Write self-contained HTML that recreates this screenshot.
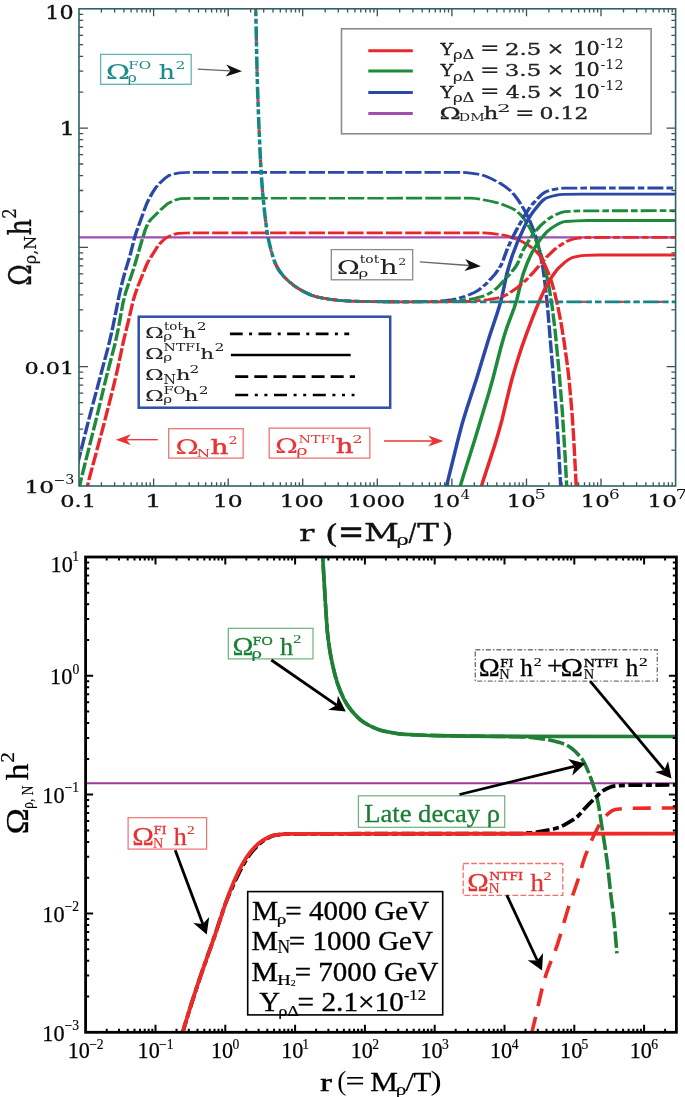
<!DOCTYPE html>
<html><head><meta charset="utf-8"><title>plot</title>
<style>
html,body{margin:0;padding:0;background:#fff;}
svg{display:block;}
.dv{font-family:"DejaVu Serif","Liberation Serif",serif;}
.tm{font-family:"Liberation Serif","DejaVu Serif",serif;}
</style></head>
<body>
<svg width="685" height="1097" viewBox="0 0 685 1097">
<rect width="685" height="1097" fill="#fff"/>
<clipPath id="ctop"><rect x="79.0" y="8.8" width="596.6" height="477.2"/></clipPath>
<g clip-path="url(#ctop)"><line x1="79.0" y1="237.4" x2="675.6" y2="237.4" stroke="#a24db0" stroke-width="2.2"/><g transform="scale(1.27 1)"><path d="M55.1,494 70.1,418.7 85.4,346 88.6,328.6 93.7,296.2 95.4,286.6 98.2,272.9 102.3,256 106,237.5 107.4,231.9 114.1,208.3 115.6,203.4 117.2,199.2 120.2,192.4 122.9,187.2 126.5,182.3 130,178.1 133.1,175.5 135.7,174.3 141.2,172.9 146.7,172.5 157.4,172.4 364,172.4 369.1,172.9 374.7,173.8 379,174.8 382.1,176 386.8,178.6 394,183.4 398,186.8 401.8,190.6 404.9,194.8 407.8,199.7 411.1,206.2 414.6,213.9 416.7,219.5 418.7,225.3 420.7,232.3 422.5,239.4 423.9,246.2 425.2,252.9 427.6,268.8 429.2,284.1 431.2,307.9 438.1,412.9 439.6,442.8 442.5,509.6" fill="none" stroke="#2a48a8" stroke-width="2.7" stroke-dasharray="12.8 2.4"/><path d="M59.1,505 64.5,476 75.7,419.4 83.9,376.2 90.8,342.7 93.1,329 96.9,302.6 98.9,292.6 105.5,267.6 111.3,242.4 114.2,230.4 115.4,226.5 117.1,222.3 118.8,219.4 124.2,212.6 131.1,204.6 132.4,203.4 136,201.1 138.3,199.9 140.2,199.2 142.5,198.6 150.4,198.3 370.4,198.2 374.3,198.5 378.6,199.3 386.5,201.2 390.9,202.6 395.8,204.6 401.4,207.4 404.7,209.4 407.7,212 410,214.8 412.6,218.8 415.1,223.5 418,229.8 420.4,235.8 422.1,240.5 424,246.9 425.9,253.9 427.8,262.2 429.4,270.1 431,279.1 432.6,289.2 434.9,307.7 437.3,333.1 440.3,372.9 442.8,411.8 444.9,454.7 447.2,509.6" fill="none" stroke="#1d8a3c" stroke-width="2.7" stroke-dasharray="12.8 2.4"/><path d="M64.6,510 67.9,491.1 70.6,477 81.6,425.2 89.2,387.3 92.4,370 97.4,340.2 101.5,319 104.7,301.3 106.3,294.6 108.3,287.2 115.1,265.8 116.1,263 117.5,259.8 124.3,246.1 125.6,244.1 127.8,241.1 129.6,239.1 131.2,237.5 132.7,236.6 136,234.8 138.3,233.9 140.3,233.4 147,233 157.2,232.8 381,232.9 386.5,233.4 394,234.6 397.2,235.3 400.3,236.3 405.6,238.6 410.4,241.2 414.3,243.8 417.7,246.7 419.9,248.9 422.3,251.7 424,253.9 425.3,255.9 426.6,258.6 428.1,262.3 431.4,271.9 434.2,281.3 436.6,292.1 439.3,306.9 441.8,323 444.1,341.2 446.4,361.7 448,378.6 449.4,397.9 450.6,416.3 451.6,435.2 454.7,509.6" fill="none" stroke="#e8262b" stroke-width="2.7" stroke-dasharray="12.8 2.4"/><path d="M346.5,510 352.3,482.5 360.6,439.7 364.1,422.8 367.6,408.4 375.4,378.2 385.2,337.1 390.8,315.9 393,307.2 395.3,296.5 399.1,273.6 401.6,262.7 403.5,255.2 405.7,247.8 407.8,240.9 410.4,233.7 413,226.6 415.4,220.6 417.7,215.6 419.8,211.8 425.1,203.4 427.1,200.8 429,198.9 430.8,197.7 433.8,196.5 437.4,195.3 440.5,194.6 443.7,194.3 458.3,194.1 533.5,194.1" fill="none" stroke="#2a48a8" stroke-width="2.8"/><path d="M357.5,510 361,492.6 364,479.3 373.8,439.8 385.2,391.7 388.2,378.1 394.4,347.4 396.8,336.7 399.2,327.1 404.8,308.1 407,299.5 411,278.3 412.3,272.5 415.4,262.2 418.6,253.2 421.9,246 425.6,239.2 429.8,232.9 431.9,230.4 433.8,228.5 437.9,225.2 440.7,223.3 443,222.1 445.3,221.5 454,220.8 462.6,220.5 533.5,220.5" fill="none" stroke="#1d8a3c" stroke-width="2.8"/><path d="M374,510 377.5,493.4 380.3,481.2 389.3,446.2 392.6,432.2 395.3,419.7 400.8,390.4 403.2,378.6 406.7,363.5 410.7,347.7 414.4,334.3 418.7,319.8 422.3,308.3 426,297.2 429,289.1 430.9,284.4 434.7,276.5 437.8,271 439.6,268.3 442.9,264.4 445.6,261.4 448,259.3 449.7,258.1 451.2,257.4 454.8,256.3 457.9,255.6 461.5,255.3 470.9,255 533.5,255" fill="none" stroke="#e8262b" stroke-width="2.8"/><path d="M236.2,289.6 239.8,292 243.8,294.4 246.4,295.7 249.1,296.8 254.6,298.2 260.5,299.4 266.4,300.3 271.9,300.8 283.7,301.4 295.1,301.7 318.7,301.8 334.9,301.6 343.9,301.2 351,300.5 356.1,299.6 361.3,298.2 366.2,296.3 370.4,294.3 373.7,292.4 376.8,290.1 379.7,287.3 382.7,283.9 386.9,278.3 389.9,274 392.5,269.4 394.8,264.5 396.2,260.1 399.4,249.1 402.8,239.4 407.5,227.9 413.4,214.8 416.8,208.2 419.8,203.4 425.6,195.6 427.8,193.3 429.5,191.9 431.7,190.8 436.5,189.3 440,188.5 443.5,188.2 462,188 532,188" fill="none" stroke="#2a48a8" stroke-width="2.8" stroke-dasharray="12.6 2.4 5.2 2.4"/><path d="M236.2,289.6 239.8,292 243.8,294.4 246.8,295.9 249.4,296.9 255,298.3 260.9,299.5 266.8,300.3 272.3,300.9 284.1,301.4 295.5,301.7 323.9,301.9 343.9,301.6 353,301.3 360.1,300.7 368,299.6 373.9,298.4 379.7,296.4 382.3,295.2 384.9,293.7 387,292.2 388.7,290.8 390.6,288.8 392.6,286.3 402.7,272.3 405.9,267 407.2,264.3 408.1,261.9 411.4,251.6 412.7,248.3 417.1,239 421.2,231.9 423.3,228.8 425.8,225.4 430.3,220.3 434,217.1 439.4,213.7 442.4,212.3 444.8,211.6 457,210.8 532,210.7" fill="none" stroke="#1d8a3c" stroke-width="2.8" stroke-dasharray="12.6 2.4 5.2 2.4"/><path d="M216.5,262.8 217.6,265.6 218.9,268.8 220.5,271.8 222.2,274.7 224.1,277.4 226.2,279.9 231.1,285.2 233.7,287.6 236.5,289.7 242.9,293.9 247.8,296.3 252.9,297.8 260.8,299.5 268.3,300.5 276.1,301.1 288.7,301.6 316.7,301.9 345.8,301.8 362.3,301.6 373.8,301 384.4,299.7 391.5,298.2 394.2,297.3 396.5,296.2 398.6,294.9 401.1,293.1 405.1,289.6 408,286.9 411.1,283.6 414.4,279.8 420.5,271.6 430.4,257.1 436.8,249.3 439.7,246.5 443.8,243.2 447,241 449.6,239.7 451.9,238.9 456.3,238 459.4,237.7 462.9,237.5 532,237.4" fill="none" stroke="#e8262b" stroke-width="2.8" stroke-dasharray="12.6 2.4 5.2 2.4"/><path d="M200.4,-3.8 201,4.1 201.4,11.7 202.3,65.4 202.8,88.6 203.8,124.1 205.1,160.5 205.9,177.2 206.9,193.9 208.5,214 209.9,228.6 211,237.3 213.4,250.2 215.4,258.9 217.4,265.2 220.1,271.1 223.1,276 227.4,281.4 231.8,285.9 235.5,289 239.8,292 244.9,295 248.6,296.7 254.9,298.3 262,299.7 268.7,300.6 275.4,301 292.3,301.6 321.5,301.9 532,301.9" fill="none" stroke="#e8262b" stroke-width="2.4" stroke-dasharray="2.4 27.8" stroke-dashoffset="17.6"/><path d="M200.4,-3.8 201,4.1 201.4,11.7 202.3,65.4 202.8,88.6 203.8,124.1 205.1,160.5 205.9,177.2 206.9,193.9 208.5,214 209.9,228.6 211,237.3 213.4,250.2 215.4,258.9 217.4,265.2 220.1,271.1 223.1,276 227.4,281.4 231.8,285.9 235.5,289 239.8,292 244.9,295 248.6,296.7 254.9,298.3 262,299.7 268.7,300.6 275.4,301 292.3,301.6 321.5,301.9 532,301.9" fill="none" stroke="#178585" stroke-width="2.8" stroke-dasharray="12.6 2.4 5.1 2.4 5.1 2.6"/></g></g>
<path d="M101.4,8.8v3.8M101.4,486.0v-3.8M114.6,8.8v3.8M114.6,486.0v-3.8M123.9,8.8v3.8M123.9,486.0v-3.8M131.1,8.8v3.8M131.1,486.0v-3.8M137,8.8v3.8M137,486.0v-3.8M142,8.8v3.8M142,486.0v-3.8M146.3,8.8v3.8M146.3,486.0v-3.8M150.2,8.8v3.8M150.2,486.0v-3.8M153.6,8.8v7.5M153.6,486.0v-7.5M176,8.8v3.8M176,486.0v-3.8M189.2,8.8v3.8M189.2,486.0v-3.8M198.5,8.8v3.8M198.5,486.0v-3.8M205.7,8.8v3.8M205.7,486.0v-3.8M211.6,8.8v3.8M211.6,486.0v-3.8M216.6,8.8v3.8M216.6,486.0v-3.8M220.9,8.8v3.8M220.9,486.0v-3.8M224.7,8.8v3.8M224.7,486.0v-3.8M228.2,8.8v7.5M228.2,486.0v-7.5M250.6,8.8v3.8M250.6,486.0v-3.8M263.7,8.8v3.8M263.7,486.0v-3.8M273,8.8v3.8M273,486.0v-3.8M280.3,8.8v3.8M280.3,486.0v-3.8M286.2,8.8v3.8M286.2,486.0v-3.8M291.2,8.8v3.8M291.2,486.0v-3.8M295.5,8.8v3.8M295.5,486.0v-3.8M299.3,8.8v3.8M299.3,486.0v-3.8M302.7,8.8v7.5M302.7,486.0v-7.5M325.2,8.8v3.8M325.2,486.0v-3.8M338.3,8.8v3.8M338.3,486.0v-3.8M347.6,8.8v3.8M347.6,486.0v-3.8M354.9,8.8v3.8M354.9,486.0v-3.8M360.8,8.8v3.8M360.8,486.0v-3.8M365.7,8.8v3.8M365.7,486.0v-3.8M370.1,8.8v3.8M370.1,486.0v-3.8M373.9,8.8v3.8M373.9,486.0v-3.8M377.3,8.8v7.5M377.3,486.0v-7.5M399.7,8.8v3.8M399.7,486.0v-3.8M412.9,8.8v3.8M412.9,486.0v-3.8M422.2,8.8v3.8M422.2,486.0v-3.8M429.4,8.8v3.8M429.4,486.0v-3.8M435.3,8.8v3.8M435.3,486.0v-3.8M440.3,8.8v3.8M440.3,486.0v-3.8M444.6,8.8v3.8M444.6,486.0v-3.8M448.5,8.8v3.8M448.5,486.0v-3.8M451.9,8.8v7.5M451.9,486.0v-7.5M474.3,8.8v3.8M474.3,486.0v-3.8M487.5,8.8v3.8M487.5,486.0v-3.8M496.8,8.8v3.8M496.8,486.0v-3.8M504,8.8v3.8M504,486.0v-3.8M509.9,8.8v3.8M509.9,486.0v-3.8M514.9,8.8v3.8M514.9,486.0v-3.8M519.2,8.8v3.8M519.2,486.0v-3.8M523,8.8v3.8M523,486.0v-3.8M526.5,8.8v7.5M526.5,486.0v-7.5M548.9,8.8v3.8M548.9,486.0v-3.8M562,8.8v3.8M562,486.0v-3.8M571.3,8.8v3.8M571.3,486.0v-3.8M578.6,8.8v3.8M578.6,486.0v-3.8M584.5,8.8v3.8M584.5,486.0v-3.8M589.5,8.8v3.8M589.5,486.0v-3.8M593.8,8.8v3.8M593.8,486.0v-3.8M597.6,8.8v3.8M597.6,486.0v-3.8M601,8.8v7.5M601,486.0v-7.5M623.5,8.8v3.8M623.5,486.0v-3.8M636.6,8.8v3.8M636.6,486.0v-3.8M645.9,8.8v3.8M645.9,486.0v-3.8M653.2,8.8v3.8M653.2,486.0v-3.8M659.1,8.8v3.8M659.1,486.0v-3.8M664,8.8v3.8M664,486.0v-3.8M668.4,8.8v3.8M668.4,486.0v-3.8M672.2,8.8v3.8M672.2,486.0v-3.8M79.0,450.1h4.2M675.6,450.1h-4.2M79.0,429.1h4.2M675.6,429.1h-4.2M79.0,414.2h4.2M675.6,414.2h-4.2M79.0,402.6h4.2M675.6,402.6h-4.2M79.0,393.2h4.2M675.6,393.2h-4.2M79.0,385.2h4.2M675.6,385.2h-4.2M79.0,378.3h4.2M675.6,378.3h-4.2M79.0,372.2h4.2M675.6,372.2h-4.2M79.0,366.7h9M675.6,366.7h-9M79.0,330.8h4.2M675.6,330.8h-4.2M79.0,309.8h4.2M675.6,309.8h-4.2M79.0,294.9h4.2M675.6,294.9h-4.2M79.0,283.3h4.2M675.6,283.3h-4.2M79.0,273.9h4.2M675.6,273.9h-4.2M79.0,265.9h4.2M675.6,265.9h-4.2M79.0,259h4.2M675.6,259h-4.2M79.0,252.9h4.2M675.6,252.9h-4.2M79.0,247.4h9M675.6,247.4h-9M79.0,211.5h4.2M675.6,211.5h-4.2M79.0,190.5h4.2M675.6,190.5h-4.2M79.0,175.6h4.2M675.6,175.6h-4.2M79.0,164h4.2M675.6,164h-4.2M79.0,154.6h4.2M675.6,154.6h-4.2M79.0,146.6h4.2M675.6,146.6h-4.2M79.0,139.7h4.2M675.6,139.7h-4.2M79.0,133.6h4.2M675.6,133.6h-4.2M79.0,128.1h9M675.6,128.1h-9M79.0,92.2h4.2M675.6,92.2h-4.2M79.0,71.2h4.2M675.6,71.2h-4.2M79.0,56.3h4.2M675.6,56.3h-4.2M79.0,44.7h4.2M675.6,44.7h-4.2M79.0,35.3h4.2M675.6,35.3h-4.2M79.0,27.3h4.2M675.6,27.3h-4.2M79.0,20.4h4.2M675.6,20.4h-4.2M79.0,14.3h4.2M675.6,14.3h-4.2" stroke="#4a4a4a" stroke-width="1.3" fill="none"/>
<rect x="79.0" y="8.8" width="596.6" height="477.2" fill="none" stroke="#2e6464" stroke-width="1.6"/>
<text x="45.29" y="19.00" font-size="18" class="dv" fill="#111" stroke="#111" stroke-width="0.35" textLength="28.29" lengthAdjust="spacingAndGlyphs">10</text>
<text x="59.55" y="135.00" font-size="18" class="dv" fill="#111" stroke="#111" stroke-width="0.35" textLength="15.39" lengthAdjust="spacingAndGlyphs">1</text>
<text x="24.53" y="373.90" font-size="17.5" class="dv" fill="#111" stroke="#111" stroke-width="0.35" textLength="49.75" lengthAdjust="spacingAndGlyphs">0.01</text>
<text x="24.56" y="492.90" font-size="17.5" class="dv" fill="#111" stroke="#111" stroke-width="0.35" textLength="29.58" lengthAdjust="spacingAndGlyphs">10</text>
<text x="53.19" y="484.00" font-size="12" class="dv" fill="#111" textLength="21.08" lengthAdjust="spacingAndGlyphs">−3</text>
<text x="60.32" y="506.90" font-size="17.5" class="dv" fill="#111" stroke="#111" stroke-width="0.35" textLength="35.78" lengthAdjust="spacingAndGlyphs">0.1</text>
<text x="145.18" y="506.90" font-size="17.5" class="dv" fill="#111" stroke="#111" stroke-width="0.35" textLength="16.24" lengthAdjust="spacingAndGlyphs">1</text>
<text x="212.94" y="506.90" font-size="17.5" class="dv" fill="#111" stroke="#111" stroke-width="0.35" textLength="29.82" lengthAdjust="spacingAndGlyphs">10</text>
<text x="279.68" y="506.90" font-size="17.5" class="dv" fill="#111" stroke="#111" stroke-width="0.35" textLength="44.16" lengthAdjust="spacingAndGlyphs">100</text>
<text x="347.75" y="506.90" font-size="17.5" class="dv" fill="#111" stroke="#111" stroke-width="0.35" textLength="57.35" lengthAdjust="spacingAndGlyphs">1000</text>
<text x="432.00" y="506.90" font-size="17.5" class="dv" fill="#111" stroke="#111" stroke-width="0.35" textLength="28.17" lengthAdjust="spacingAndGlyphs">10</text>
<text x="506.72" y="506.90" font-size="17.5" class="dv" fill="#111" stroke="#111" stroke-width="0.35" textLength="28.99" lengthAdjust="spacingAndGlyphs">10</text>
<text x="580.72" y="506.90" font-size="17.5" class="dv" fill="#111" stroke="#111" stroke-width="0.35" textLength="28.99" lengthAdjust="spacingAndGlyphs">10</text>
<text x="647.58" y="506.90" font-size="17.5" class="dv" fill="#111" stroke="#111" stroke-width="0.35" textLength="29.35" lengthAdjust="spacingAndGlyphs">10</text>
<text x="460.53" y="499.20" font-size="12" class="dv" fill="#111" textLength="9.74" lengthAdjust="spacingAndGlyphs">4</text>
<text x="534.58" y="499.20" font-size="12" class="dv" fill="#111" textLength="11.41" lengthAdjust="spacingAndGlyphs">5</text>
<text x="608.98" y="499.20" font-size="12" class="dv" fill="#111" textLength="10.68" lengthAdjust="spacingAndGlyphs">6</text>
<text x="675.81" y="499.20" font-size="12" class="dv" fill="#111" textLength="11.27" lengthAdjust="spacingAndGlyphs">7</text>
<text x="299.16" y="541.10" font-size="23" class="dv" fill="#111" stroke="#111" stroke-width="0.35" textLength="15.14" lengthAdjust="spacingAndGlyphs">r</text>
<text x="324.99" y="542.50" font-size="26" class="dv" fill="#111" stroke="#111" stroke-width="0.35" textLength="13.34" lengthAdjust="spacingAndGlyphs">(</text>
<text x="337.73" y="542.60" font-size="33" class="dv" fill="#111" stroke="#111" stroke-width="0.35" textLength="26.64" lengthAdjust="spacingAndGlyphs">=</text>
<text x="363.90" y="541.10" font-size="24" class="dv" fill="#111" stroke="#111" stroke-width="0.35" textLength="34.93" lengthAdjust="spacingAndGlyphs">M</text>
<text x="396.49" y="545.10" font-size="14.5" class="dv" fill="#111" stroke="#111" stroke-width="0.2" textLength="12.26" lengthAdjust="spacingAndGlyphs">ρ</text>
<text x="408.40" y="541.10" font-size="24" class="dv" fill="#111" stroke="#111" stroke-width="0.35" textLength="7.70" lengthAdjust="spacingAndGlyphs">/</text>
<text x="417.18" y="541.10" font-size="24" class="dv" fill="#111" stroke="#111" stroke-width="0.35" textLength="21.63" lengthAdjust="spacingAndGlyphs">T</text>
<text x="442.04" y="542.30" font-size="26" class="dv" fill="#111" stroke="#111" stroke-width="0.35" textLength="11.37" lengthAdjust="spacingAndGlyphs">)</text>
<g transform="translate(31.2,284.2) rotate(-90)"><text x="-1.59" y="0.00" font-size="32.5" class="dv" fill="#111" stroke="#111" stroke-width="0.35" textLength="21.66" lengthAdjust="spacingAndGlyphs">Ω</text><text x="20.00" y="4.90" font-size="17.5" class="dv" fill="#111" stroke="#111" stroke-width="0.2" textLength="28.41" lengthAdjust="spacingAndGlyphs">ρ,N</text><text x="48.78" y="0.00" font-size="32.5" class="dv" fill="#111" stroke="#111" stroke-width="0.35" textLength="16.43" lengthAdjust="spacingAndGlyphs">h</text><text x="65.37" y="-15.60" font-size="18" class="dv" fill="#111" stroke="#111" stroke-width="0.2" textLength="10.55" lengthAdjust="spacingAndGlyphs">2</text></g>
<rect x="341.5" y="28.8" width="309.6" height="105" fill="#fff" stroke="#8c8c8c" stroke-width="1.6"/>
<line x1="368.3" y1="50.7" x2="412.8" y2="50.7" stroke="#e8262b" stroke-width="3"/>
<line x1="368.3" y1="71.1" x2="412.8" y2="71.1" stroke="#1d8a3c" stroke-width="3"/>
<line x1="368.3" y1="92.6" x2="412.8" y2="92.6" stroke="#2a48a8" stroke-width="3"/>
<line x1="368.3" y1="113.5" x2="412.8" y2="113.5" stroke="#a24db0" stroke-width="3"/>
<text x="440.42" y="54.80" font-size="16.5" class="dv" fill="#222" stroke="#222" stroke-width="0.35" textLength="12.81" lengthAdjust="spacingAndGlyphs">Y</text>
<text x="452.96" y="59.40" font-size="12" class="dv" fill="#222" stroke="#222" stroke-width="0.15" textLength="21.53" lengthAdjust="spacingAndGlyphs">ρΔ</text>
<text x="480.13" y="55.40" font-size="20" class="dv" fill="#222" stroke="#222" stroke-width="0.2" textLength="19.54" lengthAdjust="spacingAndGlyphs">=</text>
<text x="504.95" y="54.80" font-size="16" class="dv" fill="#222" stroke="#222" stroke-width="0.3" textLength="36.31" lengthAdjust="spacingAndGlyphs">2.5</text>
<text x="546.82" y="53.80" font-size="16" class="dv" fill="#222" stroke="#222" stroke-width="0.3" textLength="17.44" lengthAdjust="spacingAndGlyphs">×</text>
<text x="572.48" y="55.30" font-size="17.7" class="dv" fill="#222" stroke="#222" stroke-width="0.3" textLength="15.73" lengthAdjust="spacingAndGlyphs">1</text>
<text x="586.63" y="55.30" font-size="17.7" class="dv" fill="#222" stroke="#222" stroke-width="0.3" textLength="13.26" lengthAdjust="spacingAndGlyphs">0</text>
<text x="600.47" y="47.50" font-size="12" class="dv" fill="#222" textLength="23.03" lengthAdjust="spacingAndGlyphs">-12</text>
<text x="440.42" y="75.90" font-size="16.5" class="dv" fill="#222" stroke="#222" stroke-width="0.35" textLength="12.81" lengthAdjust="spacingAndGlyphs">Y</text>
<text x="452.96" y="80.50" font-size="12" class="dv" fill="#222" stroke="#222" stroke-width="0.15" textLength="21.53" lengthAdjust="spacingAndGlyphs">ρΔ</text>
<text x="480.13" y="76.50" font-size="20" class="dv" fill="#222" stroke="#222" stroke-width="0.2" textLength="19.54" lengthAdjust="spacingAndGlyphs">=</text>
<text x="504.75" y="75.90" font-size="16" class="dv" fill="#222" stroke="#222" stroke-width="0.3" textLength="36.52" lengthAdjust="spacingAndGlyphs">3.5</text>
<text x="546.82" y="74.90" font-size="16" class="dv" fill="#222" stroke="#222" stroke-width="0.3" textLength="17.44" lengthAdjust="spacingAndGlyphs">×</text>
<text x="572.48" y="76.40" font-size="17.7" class="dv" fill="#222" stroke="#222" stroke-width="0.3" textLength="15.73" lengthAdjust="spacingAndGlyphs">1</text>
<text x="586.63" y="76.40" font-size="17.7" class="dv" fill="#222" stroke="#222" stroke-width="0.3" textLength="13.26" lengthAdjust="spacingAndGlyphs">0</text>
<text x="600.47" y="68.60" font-size="12" class="dv" fill="#222" textLength="23.03" lengthAdjust="spacingAndGlyphs">-12</text>
<text x="440.42" y="97.50" font-size="16.5" class="dv" fill="#222" stroke="#222" stroke-width="0.35" textLength="12.81" lengthAdjust="spacingAndGlyphs">Y</text>
<text x="452.96" y="102.10" font-size="12" class="dv" fill="#222" stroke="#222" stroke-width="0.15" textLength="21.53" lengthAdjust="spacingAndGlyphs">ρΔ</text>
<text x="480.13" y="98.10" font-size="20" class="dv" fill="#222" stroke="#222" stroke-width="0.2" textLength="19.54" lengthAdjust="spacingAndGlyphs">=</text>
<text x="505.82" y="97.50" font-size="16" class="dv" fill="#222" stroke="#222" stroke-width="0.3" textLength="35.40" lengthAdjust="spacingAndGlyphs">4.5</text>
<text x="546.82" y="96.50" font-size="16" class="dv" fill="#222" stroke="#222" stroke-width="0.3" textLength="17.44" lengthAdjust="spacingAndGlyphs">×</text>
<text x="572.48" y="98.00" font-size="17.7" class="dv" fill="#222" stroke="#222" stroke-width="0.3" textLength="15.73" lengthAdjust="spacingAndGlyphs">1</text>
<text x="586.63" y="98.00" font-size="17.7" class="dv" fill="#222" stroke="#222" stroke-width="0.3" textLength="13.26" lengthAdjust="spacingAndGlyphs">0</text>
<text x="600.47" y="90.20" font-size="12" class="dv" fill="#222" textLength="23.03" lengthAdjust="spacingAndGlyphs">-12</text>
<text x="439.54" y="119.40" font-size="16.5" class="dv" fill="#222" stroke="#222" stroke-width="0.3" textLength="21.20" lengthAdjust="spacingAndGlyphs">Ω</text>
<text x="458.82" y="120.90" font-size="11.3" class="dv" fill="#222" textLength="25.90" lengthAdjust="spacingAndGlyphs">DM</text>
<text x="483.47" y="119.40" font-size="16.5" class="dv" fill="#222" stroke="#222" stroke-width="0.3" textLength="14.88" lengthAdjust="spacingAndGlyphs">h</text>
<text x="497.13" y="111.50" font-size="11" class="dv" fill="#222" textLength="13.80" lengthAdjust="spacingAndGlyphs">2</text>
<text x="515.13" y="120.00" font-size="20" class="dv" fill="#222" stroke="#222" stroke-width="0.2" textLength="19.54" lengthAdjust="spacingAndGlyphs">=</text>
<text x="539.56" y="119.40" font-size="16" class="dv" fill="#222" stroke="#222" stroke-width="0.3" textLength="48.80" lengthAdjust="spacingAndGlyphs">0.12</text>
<rect x="100.6" y="54.4" width="90.6" height="29.9" fill="#fff" stroke="#62b5b5" stroke-width="1.3"/>
<text x="106.13" y="78.50" font-size="20.7" class="dv" fill="#1f8b8b" stroke="#1f8b8b" stroke-width="0.15" textLength="24.01" lengthAdjust="spacingAndGlyphs">Ω</text>
<text x="128.27" y="68.70" font-size="10.6" class="dv" fill="#1f8b8b" textLength="22.88" lengthAdjust="spacingAndGlyphs">FO</text>
<text x="127.83" y="82.20" font-size="12" class="dv" fill="#1f8b8b" textLength="9.04" lengthAdjust="spacingAndGlyphs">ρ</text>
<text x="158.89" y="78.50" font-size="20.7" class="dv" fill="#1f8b8b" stroke="#1f8b8b" stroke-width="0.15" textLength="16.21" lengthAdjust="spacingAndGlyphs">h</text>
<text x="175.55" y="69.00" font-size="10.5" class="dv" fill="#1f8b8b" textLength="9.88" lengthAdjust="spacingAndGlyphs">2</text>
<line x1="197.7" y1="69.2" x2="230.5" y2="70.8" stroke="#666" stroke-width="1.3"/><path d="M242,71.3L225.7,76.5L230.5,70.8L226.3,64.5Z" fill="#111"/>
<rect x="331.3" y="249.6" width="81.4" height="30.2" fill="#fff" stroke="#8c8c8c" stroke-width="1.3"/>
<text x="337.13" y="273.60" font-size="19.4" class="dv" fill="#222" stroke="#222" stroke-width="0.12" textLength="22.72" lengthAdjust="spacingAndGlyphs">Ω</text>
<text x="359.80" y="262.70" font-size="10.5" class="dv" fill="#222" textLength="19.51" lengthAdjust="spacingAndGlyphs">tot</text>
<text x="358.45" y="276.90" font-size="11.5" class="dv" fill="#222" textLength="9.79" lengthAdjust="spacingAndGlyphs">ρ</text>
<text x="379.58" y="273.60" font-size="20.4" class="dv" fill="#222" textLength="18.21" lengthAdjust="spacingAndGlyphs">h</text>
<text x="398.15" y="264.70" font-size="10" class="dv" fill="#222" textLength="7.98" lengthAdjust="spacingAndGlyphs">2</text>
<line x1="419.8" y1="261.8" x2="469.3" y2="265.5" stroke="#666" stroke-width="1.3"/><path d="M480.8,266.3L464.4,271.1L469.3,265.5L465.3,259.1Z" fill="#111"/>
<rect x="138.7" y="316.7" width="251.5" height="91" fill="#fff" stroke="#2f4fae" stroke-width="2.5"/>
<text x="145.25" y="337.70" font-size="15.4" class="dv" fill="#222" stroke="#222" stroke-width="0.1" textLength="18.39" lengthAdjust="spacingAndGlyphs">Ω</text>
<text x="145.25" y="359.40" font-size="15.4" class="dv" fill="#222" stroke="#222" stroke-width="0.1" textLength="18.39" lengthAdjust="spacingAndGlyphs">Ω</text>
<text x="145.25" y="379.80" font-size="15.4" class="dv" fill="#222" stroke="#222" stroke-width="0.1" textLength="18.39" lengthAdjust="spacingAndGlyphs">Ω</text>
<text x="145.25" y="401.40" font-size="15.4" class="dv" fill="#222" stroke="#222" stroke-width="0.1" textLength="18.39" lengthAdjust="spacingAndGlyphs">Ω</text>
<text x="163.91" y="330.10" font-size="11" class="dv" fill="#222" textLength="18.89" lengthAdjust="spacingAndGlyphs">tot</text>
<text x="163.34" y="339.50" font-size="11" class="dv" fill="#222" textLength="8.92" lengthAdjust="spacingAndGlyphs">ρ</text>
<text x="182.63" y="337.70" font-size="15.4" class="dv" fill="#222" stroke="#222" stroke-width="0.15" textLength="13.77" lengthAdjust="spacingAndGlyphs">h</text>
<text x="196.76" y="330.10" font-size="11" class="dv" fill="#222" textLength="9.74" lengthAdjust="spacingAndGlyphs">2</text>
<text x="163.61" y="351.10" font-size="10.3" class="dv" fill="#222" textLength="36.96" lengthAdjust="spacingAndGlyphs">NTFI</text>
<text x="163.34" y="361.20" font-size="11" class="dv" fill="#222" textLength="8.92" lengthAdjust="spacingAndGlyphs">ρ</text>
<text x="200.32" y="359.40" font-size="15.4" class="dv" fill="#222" stroke="#222" stroke-width="0.15" textLength="13.88" lengthAdjust="spacingAndGlyphs">h</text>
<text x="214.45" y="350.80" font-size="11" class="dv" fill="#222" textLength="9.88" lengthAdjust="spacingAndGlyphs">2</text>
<text x="163.60" y="383.70" font-size="12.6" class="dv" fill="#222" textLength="12.53" lengthAdjust="spacingAndGlyphs">N</text>
<text x="175.98" y="379.80" font-size="15.4" class="dv" fill="#222" stroke="#222" stroke-width="0.15" textLength="14.54" lengthAdjust="spacingAndGlyphs">h</text>
<text x="189.56" y="372.50" font-size="11" class="dv" fill="#222" textLength="9.74" lengthAdjust="spacingAndGlyphs">2</text>
<text x="163.50" y="394.20" font-size="11.7" class="dv" fill="#222" textLength="22.01" lengthAdjust="spacingAndGlyphs">FO</text>
<text x="163.34" y="403.20" font-size="11" class="dv" fill="#222" textLength="8.92" lengthAdjust="spacingAndGlyphs">ρ</text>
<text x="184.52" y="401.40" font-size="15.4" class="dv" fill="#222" stroke="#222" stroke-width="0.15" textLength="13.88" lengthAdjust="spacingAndGlyphs">h</text>
<text x="198.76" y="394.20" font-size="11" class="dv" fill="#222" textLength="9.74" lengthAdjust="spacingAndGlyphs">2</text>
<line x1="229.9" y1="333.9" x2="349.2" y2="333.9" stroke="#000" stroke-width="2.6" stroke-dasharray="12.8 6.4 3 6.4"/>
<line x1="230.9" y1="355" x2="350.7" y2="355" stroke="#000" stroke-width="2.6"/>
<line x1="235.2" y1="376.6" x2="355" y2="376.6" stroke="#000" stroke-width="2.6" stroke-dasharray="13 6.1"/>
<line x1="235.2" y1="395" x2="354.5" y2="395" stroke="#000" stroke-width="2.6" stroke-dasharray="13 6.6 3 6.6 3 6.6"/>
<rect x="168.7" y="428.7" width="74.5" height="29.4" fill="#fff" stroke="#ef7272" stroke-width="1.3"/>
<text x="175.58" y="453.50" font-size="20" class="dv" fill="#e83434" stroke="#e83434" stroke-width="0.12" textLength="23.30" lengthAdjust="spacingAndGlyphs">Ω</text>
<text x="196.43" y="456.60" font-size="11.8" class="dv" fill="#e83434" textLength="13.76" lengthAdjust="spacingAndGlyphs">N</text>
<text x="210.59" y="453.50" font-size="20" class="dv" fill="#e83434" stroke="#e83434" stroke-width="0.5" textLength="17.99" lengthAdjust="spacingAndGlyphs">h</text>
<text x="228.43" y="444.30" font-size="11.5" class="dv" fill="#e83434" textLength="9.07" lengthAdjust="spacingAndGlyphs">2</text>
<line x1="157.8" y1="439.7" x2="126.6" y2="439.7" stroke="#e83434" stroke-width="1.3"/><path d="M115.8,439.7L130.8,434.2L126.6,439.7L130.8,445.2Z" fill="#e83434"/>
<rect x="269.2" y="428.1" width="100.6" height="30" fill="#fff" stroke="#ef7272" stroke-width="1.3"/>
<text x="275.24" y="452.60" font-size="20" class="dv" fill="#e83434" stroke="#e83434" stroke-width="0.12" textLength="22.60" lengthAdjust="spacingAndGlyphs">Ω</text>
<text x="298.61" y="442.80" font-size="11.8" class="dv" fill="#e83434" textLength="37.27" lengthAdjust="spacingAndGlyphs">NTFI</text>
<text x="296.18" y="455.30" font-size="12" class="dv" fill="#e83434" textLength="11.40" lengthAdjust="spacingAndGlyphs">ρ</text>
<text x="335.71" y="452.60" font-size="20" class="dv" fill="#e83434" stroke="#e83434" stroke-width="0.5" textLength="17.65" lengthAdjust="spacingAndGlyphs">h</text>
<text x="352.39" y="443.40" font-size="11.5" class="dv" fill="#e83434" textLength="10.42" lengthAdjust="spacingAndGlyphs">2</text>
<line x1="384.1" y1="441" x2="432.6" y2="441" stroke="#e83434" stroke-width="1.3"/><path d="M443.4,441L428.4,446.5L432.6,441L428.4,435.5Z" fill="#e83434"/>
<clipPath id="cbot"><rect x="85.6" y="557.0" width="590.8" height="475.29999999999995"/></clipPath>
<g clip-path="url(#cbot)"><line x1="85.6" y1="783.2" x2="676.4" y2="783.2" stroke="#a03a9e" stroke-width="2"/><path d="M322,545 325.9,611.7 327.3,631 328.7,642.9 330.3,653.5 332.6,664.8 335,674.8 337.5,683.6 340.5,691.5 343.9,699.1 347.6,705.4 352.9,712.3 358.3,717.9 363,721.8 369.2,725.5 374.2,727.9 379.5,729.9 383.4,731 391.4,732.6 397.9,733.7 403.9,734.3 423.4,735.3 448.4,735.9 491.9,736.4 678.4,736.5" fill="none" stroke="#1f7f35" stroke-width="3.6"/><path d="M322,545 324.8,592.8 327.1,629.1 328.2,639.2 329.5,648.5 330.9,656.8 332.8,665.9 335.2,675.9 337.7,684 340.7,692 343.9,699.1 347.3,704.9 351.3,710.3 356.1,715.8 360.6,720 364.3,722.7 369.2,725.5 373.8,727.7 378.5,729.6 382.4,730.8 388.9,732.2 395.4,733.3 401.4,734.1 415.4,734.9 436.4,735.6 500.9,736.4 523.4,736.9 532.9,737.6 547.4,739.6 553.9,740.9 559.4,742.4 564.2,744 567.9,745.8 571.3,748 574.9,751 578.4,754.7 582,759.1 584.2,762.6 586.4,767.3 589.3,774.1 592.1,781.5 594.1,787.6 595.9,793.7 597.7,801.1 598.8,806.5 605.5,850.1 607.4,863.4 610.9,895.6 612.9,910.4 613.9,919.5 615.4,935.1 616.9,953.3" fill="none" stroke="#1f7f35" stroke-width="3.6" stroke-dasharray="16.5 3.2"/><path d="M175,1060 183.9,1028.3 189.3,1010.5 195.1,992.4 201.6,973 214.9,935.3 225,904.8 228.1,896.9 234,883.4 240.1,870.7 244.9,862.1 249,855.5 252.8,850.6 258.5,844.6 262.9,841.1 268.6,837.7 272.3,835.9 275.2,835.1 283.2,834.2 290.7,833.8 524.7,833.7 525,833 532,832.6 537,832.1 553.5,829 558.9,827.5 564.5,824.9 573.3,819.6 577.8,816.2 580,814 584.3,809 588.9,804.1 599,794.1 601.7,791.7 603.3,790.5 606.5,788.8 611.7,786.6 613.7,786.1 616.2,785.8 628.7,785.1 678.4,784.9" fill="none" stroke="#000" stroke-width="3.8" stroke-dasharray="14 3.5 6 3.5"/><path d="M175,1060 180.2,1041.1 184.8,1025.1 190.9,1005.4 197.3,985.6 202.3,970.9 214.7,935.9 225.7,902.8 229.2,893.3 234,881.4 237.9,872.9 241.7,865.5 246.2,857.9 250.4,852 255.2,846.6 259.8,842.5 263.1,840.2 269.4,836.8 272.3,835.7 275.2,835 283.7,834.1 291.7,833.8 678.4,833.7" fill="none" stroke="#ee2a26" stroke-width="3.8"/><path d="M531.4,1034.3 534.2,1022.8 541.8,989.8 544,981.2 546,974.6 548.5,967.7 554.4,952.8 557.3,944.9 560,936.2 568,908.8 577.6,881.2 582.9,863 585.1,856.4 588.9,846.6 592.7,837.9 598.5,826.1 601.6,820.7 603.7,817.8 609,812.9 612.3,810.6 615.2,809.5 622.7,808.7 630.2,808.2 678.4,808" fill="none" stroke="#ee2a26" stroke-width="3.6" stroke-dasharray="18 11"/></g>
<path d="M106.7,557.0v3.6M106.7,1032.3v-3.6M119,557.0v3.6M119,1032.3v-3.6M127.7,557.0v3.6M127.7,1032.3v-3.6M134.5,557.0v3.6M134.5,1032.3v-3.6M140,557.0v3.6M140,1032.3v-3.6M144.7,557.0v3.6M144.7,1032.3v-3.6M148.7,557.0v3.6M148.7,1032.3v-3.6M152.3,557.0v3.6M152.3,1032.3v-3.6M155.5,557.0v7.5M155.5,1032.3v-7.5M176.5,557.0v3.6M176.5,1032.3v-3.6M188.8,557.0v3.6M188.8,1032.3v-3.6M197.5,557.0v3.6M197.5,1032.3v-3.6M204.3,557.0v3.6M204.3,1032.3v-3.6M209.8,557.0v3.6M209.8,1032.3v-3.6M214.5,557.0v3.6M214.5,1032.3v-3.6M218.5,557.0v3.6M218.5,1032.3v-3.6M222.1,557.0v3.6M222.1,1032.3v-3.6M225.3,557.0v7.5M225.3,1032.3v-7.5M246.3,557.0v3.6M246.3,1032.3v-3.6M258.6,557.0v3.6M258.6,1032.3v-3.6M267.3,557.0v3.6M267.3,1032.3v-3.6M274.1,557.0v3.6M274.1,1032.3v-3.6M279.6,557.0v3.6M279.6,1032.3v-3.6M284.3,557.0v3.6M284.3,1032.3v-3.6M288.3,557.0v3.6M288.3,1032.3v-3.6M291.9,557.0v3.6M291.9,1032.3v-3.6M295.1,557.0v7.5M295.1,1032.3v-7.5M316.1,557.0v3.6M316.1,1032.3v-3.6M328.4,557.0v3.6M328.4,1032.3v-3.6M337.1,557.0v3.6M337.1,1032.3v-3.6M343.9,557.0v3.6M343.9,1032.3v-3.6M349.4,557.0v3.6M349.4,1032.3v-3.6M354.1,557.0v3.6M354.1,1032.3v-3.6M358.1,557.0v3.6M358.1,1032.3v-3.6M361.7,557.0v3.6M361.7,1032.3v-3.6M364.9,557.0v7.5M364.9,1032.3v-7.5M385.9,557.0v3.6M385.9,1032.3v-3.6M398.2,557.0v3.6M398.2,1032.3v-3.6M406.9,557.0v3.6M406.9,1032.3v-3.6M413.7,557.0v3.6M413.7,1032.3v-3.6M419.2,557.0v3.6M419.2,1032.3v-3.6M423.9,557.0v3.6M423.9,1032.3v-3.6M427.9,557.0v3.6M427.9,1032.3v-3.6M431.5,557.0v3.6M431.5,1032.3v-3.6M434.7,557.0v7.5M434.7,1032.3v-7.5M455.7,557.0v3.6M455.7,1032.3v-3.6M468,557.0v3.6M468,1032.3v-3.6M476.7,557.0v3.6M476.7,1032.3v-3.6M483.5,557.0v3.6M483.5,1032.3v-3.6M489,557.0v3.6M489,1032.3v-3.6M493.7,557.0v3.6M493.7,1032.3v-3.6M497.7,557.0v3.6M497.7,1032.3v-3.6M501.3,557.0v3.6M501.3,1032.3v-3.6M504.5,557.0v7.5M504.5,1032.3v-7.5M525.5,557.0v3.6M525.5,1032.3v-3.6M537.8,557.0v3.6M537.8,1032.3v-3.6M546.5,557.0v3.6M546.5,1032.3v-3.6M553.3,557.0v3.6M553.3,1032.3v-3.6M558.8,557.0v3.6M558.8,1032.3v-3.6M563.5,557.0v3.6M563.5,1032.3v-3.6M567.5,557.0v3.6M567.5,1032.3v-3.6M571.1,557.0v3.6M571.1,1032.3v-3.6M574.3,557.0v7.5M574.3,1032.3v-7.5M595.3,557.0v3.6M595.3,1032.3v-3.6M607.6,557.0v3.6M607.6,1032.3v-3.6M616.3,557.0v3.6M616.3,1032.3v-3.6M623.1,557.0v3.6M623.1,1032.3v-3.6M628.6,557.0v3.6M628.6,1032.3v-3.6M633.3,557.0v3.6M633.3,1032.3v-3.6M637.3,557.0v3.6M637.3,1032.3v-3.6M640.9,557.0v3.6M640.9,1032.3v-3.6M644.1,557.0v7.5M644.1,1032.3v-7.5M665.1,557.0v3.6M665.1,1032.3v-3.6M85.6,996.5h3.6M676.4,996.5h-3.6M85.6,975.6h3.6M676.4,975.6h-3.6M85.6,960.8h3.6M676.4,960.8h-3.6M85.6,949.2h3.6M676.4,949.2h-3.6M85.6,939.8h3.6M676.4,939.8h-3.6M85.6,931.9h3.6M676.4,931.9h-3.6M85.6,925h3.6M676.4,925h-3.6M85.6,918.9h3.6M676.4,918.9h-3.6M85.6,913.5h7.5M676.4,913.5h-7.5M85.6,877.7h3.6M676.4,877.7h-3.6M85.6,856.8h3.6M676.4,856.8h-3.6M85.6,841.9h3.6M676.4,841.9h-3.6M85.6,830.4h3.6M676.4,830.4h-3.6M85.6,821h3.6M676.4,821h-3.6M85.6,813.1h3.6M676.4,813.1h-3.6M85.6,806.2h3.6M676.4,806.2h-3.6M85.6,800.1h3.6M676.4,800.1h-3.6M85.6,794.6h7.5M676.4,794.6h-7.5M85.6,758.9h3.6M676.4,758.9h-3.6M85.6,738h3.6M676.4,738h-3.6M85.6,723.1h3.6M676.4,723.1h-3.6M85.6,711.6h3.6M676.4,711.6h-3.6M85.6,702.2h3.6M676.4,702.2h-3.6M85.6,694.2h3.6M676.4,694.2h-3.6M85.6,687.3h3.6M676.4,687.3h-3.6M85.6,681.3h3.6M676.4,681.3h-3.6M85.6,675.8h7.5M676.4,675.8h-7.5M85.6,640.1h3.6M676.4,640.1h-3.6M85.6,619.1h3.6M676.4,619.1h-3.6M85.6,604.3h3.6M676.4,604.3h-3.6M85.6,592.8h3.6M676.4,592.8h-3.6M85.6,583.4h3.6M676.4,583.4h-3.6M85.6,575.4h3.6M676.4,575.4h-3.6M85.6,568.5h3.6M676.4,568.5h-3.6M85.6,562.4h3.6M676.4,562.4h-3.6" stroke="#000" stroke-width="2" fill="none"/>
<rect x="85.6" y="557.0" width="590.8" height="475.3" fill="none" stroke="#000" stroke-width="2.8"/>
<text x="50.55" y="571.50" font-size="22.2" class="tm" fill="#000" stroke="#000" stroke-width="0.25" textLength="22.20" lengthAdjust="spacingAndGlyphs">10</text>
<text x="72.30" y="560.80" font-size="13.6" class="tm" fill="#000" stroke="#000" stroke-width="0.15" textLength="6.80" lengthAdjust="spacingAndGlyphs">1</text>
<text x="50.05" y="684.20" font-size="22.2" class="tm" fill="#000" stroke="#000" stroke-width="0.25" textLength="22.20" lengthAdjust="spacingAndGlyphs">10</text>
<text x="72.48" y="673.50" font-size="13.6" class="tm" fill="#000" stroke="#000" stroke-width="0.15" textLength="6.80" lengthAdjust="spacingAndGlyphs">0</text>
<text x="42.35" y="803.00" font-size="22.2" class="tm" fill="#000" stroke="#000" stroke-width="0.25" textLength="22.20" lengthAdjust="spacingAndGlyphs">10</text>
<text x="64.62" y="792.30" font-size="13.6" class="tm" fill="#000" stroke="#000" stroke-width="0.15" textLength="14.47" lengthAdjust="spacingAndGlyphs">−1</text>
<text x="42.35" y="921.80" font-size="22.2" class="tm" fill="#000" stroke="#000" stroke-width="0.25" textLength="22.20" lengthAdjust="spacingAndGlyphs">10</text>
<text x="64.62" y="911.10" font-size="13.6" class="tm" fill="#000" stroke="#000" stroke-width="0.15" textLength="14.47" lengthAdjust="spacingAndGlyphs">−2</text>
<text x="42.35" y="1040.70" font-size="22.2" class="tm" fill="#000" stroke="#000" stroke-width="0.25" textLength="22.20" lengthAdjust="spacingAndGlyphs">10</text>
<text x="64.62" y="1030.00" font-size="13.6" class="tm" fill="#000" stroke="#000" stroke-width="0.15" textLength="14.47" lengthAdjust="spacingAndGlyphs">−3</text>
<text x="67.73" y="1058.00" font-size="22.2" class="tm" fill="#000" stroke="#000" stroke-width="0.25">10</text>
<text x="89.20" y="1049.30" font-size="13.6" class="tm" fill="#000" stroke="#000" stroke-width="0.15">−2</text>
<text x="137.56" y="1058.00" font-size="22.2" class="tm" fill="#000" stroke="#000" stroke-width="0.25">10</text>
<text x="159.04" y="1049.30" font-size="13.6" class="tm" fill="#000" stroke="#000" stroke-width="0.15">−1</text>
<text x="210.97" y="1058.00" font-size="22.2" class="tm" fill="#000" stroke="#000" stroke-width="0.25">10</text>
<text x="232.60" y="1049.30" font-size="13.6" class="tm" fill="#000" stroke="#000" stroke-width="0.15">0</text>
<text x="281.25" y="1058.00" font-size="22.2" class="tm" fill="#000" stroke="#000" stroke-width="0.25">10</text>
<text x="302.21" y="1049.30" font-size="13.6" class="tm" fill="#000" stroke="#000" stroke-width="0.15">1</text>
<text x="350.72" y="1058.00" font-size="22.2" class="tm" fill="#000" stroke="#000" stroke-width="0.25">10</text>
<text x="372.28" y="1049.30" font-size="13.6" class="tm" fill="#000" stroke="#000" stroke-width="0.15">2</text>
<text x="420.44" y="1058.00" font-size="22.2" class="tm" fill="#000" stroke="#000" stroke-width="0.25">10</text>
<text x="441.94" y="1049.30" font-size="13.6" class="tm" fill="#000" stroke="#000" stroke-width="0.15">3</text>
<text x="489.89" y="1058.00" font-size="22.2" class="tm" fill="#000" stroke="#000" stroke-width="0.25">10</text>
<text x="511.78" y="1049.30" font-size="13.6" class="tm" fill="#000" stroke="#000" stroke-width="0.15">4</text>
<text x="560.11" y="1058.00" font-size="22.2" class="tm" fill="#000" stroke="#000" stroke-width="0.25">10</text>
<text x="581.47" y="1049.30" font-size="13.6" class="tm" fill="#000" stroke="#000" stroke-width="0.15">5</text>
<text x="629.74" y="1058.00" font-size="22.2" class="tm" fill="#000" stroke="#000" stroke-width="0.25">10</text>
<text x="651.31" y="1049.30" font-size="13.6" class="tm" fill="#000" stroke="#000" stroke-width="0.15">6</text>
<text x="320.21" y="1090.50" font-size="26" class="tm" fill="#000" stroke="#000" stroke-width="0.6" textLength="11.49" lengthAdjust="spacingAndGlyphs">r</text>
<text x="337.20" y="1089.50" font-size="28" class="tm" fill="#000" textLength="9.08" lengthAdjust="spacingAndGlyphs">(</text>
<text x="345.51" y="1089.60" font-size="28" class="tm" fill="#000" stroke="#000" stroke-width="0.2" textLength="19.15" lengthAdjust="spacingAndGlyphs">=</text>
<text x="370.30" y="1090.50" font-size="28" class="tm" fill="#000" stroke="#000" stroke-width="0.3" textLength="27.71" lengthAdjust="spacingAndGlyphs">M</text>
<text x="395.73" y="1094.50" font-size="17" class="tm" fill="#000" stroke="#000" stroke-width="0.15" textLength="10.64" lengthAdjust="spacingAndGlyphs">ρ</text>
<text x="405.50" y="1090.50" font-size="28" class="tm" fill="#000" stroke="#000" stroke-width="0.2" textLength="8.60" lengthAdjust="spacingAndGlyphs">/</text>
<text x="413.57" y="1090.50" font-size="28" class="tm" fill="#000" stroke="#000" stroke-width="0.3" textLength="17.81" lengthAdjust="spacingAndGlyphs">T</text>
<text x="430.42" y="1089.50" font-size="28" class="tm" fill="#000" textLength="11.15" lengthAdjust="spacingAndGlyphs">)</text>
<g transform="translate(28.2,832.4) rotate(-90)"><text x="-1.82" y="0.00" font-size="31.5" class="tm" fill="#000" stroke="#000" stroke-width="0.3" textLength="26.14" lengthAdjust="spacingAndGlyphs">Ω</text><text x="23.63" y="4.50" font-size="17" class="tm" fill="#000" stroke="#000" stroke-width="0.2" textLength="23.18" lengthAdjust="spacingAndGlyphs">ρ, N</text><text x="52.17" y="0.00" font-size="31.5" class="tm" fill="#000" stroke="#000" stroke-width="0.3" textLength="16.77" lengthAdjust="spacingAndGlyphs">h</text><text x="69.57" y="-14.50" font-size="18" class="tm" fill="#000" stroke="#000" stroke-width="0.2" textLength="10.60" lengthAdjust="spacingAndGlyphs">2</text></g>
<rect x="228.3" y="628.3" width="84.7" height="30.6" fill="#fff" stroke="#6cb27a" stroke-width="1.2"/>
<text x="232.44" y="654.60" font-size="26" class="tm" fill="#1a7f36" stroke="#1a7f36" stroke-width="0.3" textLength="20.91" lengthAdjust="spacingAndGlyphs">Ω</text>
<text x="251.21" y="658.30" font-size="15" class="tm" fill="#1a7f36" stroke="#1a7f36" stroke-width="0.2" textLength="10.76" lengthAdjust="spacingAndGlyphs">ρ</text>
<text x="252.75" y="644.70" font-size="13.5" class="tm" fill="#1a7f36" stroke="#1a7f36" stroke-width="0.35" textLength="19.89" lengthAdjust="spacingAndGlyphs">FO</text>
<text x="279.94" y="654.60" font-size="26" class="tm" fill="#1a7f36" stroke="#1a7f36" stroke-width="0.3" textLength="13.10" lengthAdjust="spacingAndGlyphs">h</text>
<text x="293.29" y="643.40" font-size="13" class="tm" fill="#1a7f36" stroke="#1a7f36" stroke-width="0.15" textLength="8.11" lengthAdjust="spacingAndGlyphs">2</text>
<line x1="271.3" y1="660" x2="336.6" y2="705.2" stroke="#000" stroke-width="2.8"/><path d="M345.8,711.5L328.2,709.7L336.6,705.2L337.9,695.7Z" fill="#000"/>
<rect x="128.1" y="817.7" width="78.5" height="31.4" fill="#fff" stroke="#f07070" stroke-width="1.2"/>
<text x="132.39" y="844.80" font-size="26" class="tm" fill="#e83030" stroke="#e83030" stroke-width="0.3" textLength="21.61" lengthAdjust="spacingAndGlyphs">Ω</text>
<text x="152.89" y="847.50" font-size="14.4" class="tm" fill="#e83030" stroke="#e83030" stroke-width="0.15" textLength="10.23" lengthAdjust="spacingAndGlyphs">N</text>
<text x="153.79" y="833.60" font-size="12.5" class="tm" fill="#e83030" stroke="#e83030" stroke-width="0.3" textLength="12.71" lengthAdjust="spacingAndGlyphs">FI</text>
<text x="173.75" y="844.80" font-size="26" class="tm" fill="#e83030" stroke="#e83030" stroke-width="0.3" textLength="13.00" lengthAdjust="spacingAndGlyphs">h</text>
<text x="187.02" y="833.60" font-size="13" class="tm" fill="#e83030" stroke="#e83030" stroke-width="0.15" textLength="7.73" lengthAdjust="spacingAndGlyphs">2</text>
<line x1="175.2" y1="850.3" x2="202.8" y2="923.9" stroke="#000" stroke-width="2.8"/><path d="M206.7,934.4L193.3,922.9L202.8,923.9L209.2,916.9Z" fill="#000"/>
<rect x="358.4" y="795.8" width="146.3" height="31.5" fill="#fff" stroke="#6cb27a" stroke-width="1.2"/>
<text x="364.23" y="822.00" font-size="25" class="tm" fill="#1a7f36" stroke="#1a7f36" stroke-width="0.3" textLength="135.84" lengthAdjust="spacingAndGlyphs">Late decay ρ</text>
<line x1="459.5" y1="794.5" x2="574.5" y2="766.3" stroke="#000" stroke-width="2.8"/><path d="M585.3,763.6L572.3,775.6L574.5,766.3L568.2,759Z" fill="#000"/>
<rect x="463.2" y="863.5" width="99.6" height="31.8" fill="#fff" stroke="#f07070" stroke-width="1.3" stroke-dasharray="5.8 2.2"/>
<text x="467.30" y="890.50" font-size="26" class="tm" fill="#e83030" stroke="#e83030" stroke-width="0.3" textLength="21.49" lengthAdjust="spacingAndGlyphs">Ω</text>
<text x="488.45" y="892.90" font-size="14.4" class="tm" fill="#e83030" stroke="#e83030" stroke-width="0.15" textLength="11.20" lengthAdjust="spacingAndGlyphs">N</text>
<text x="489.26" y="880.10" font-size="13" class="tm" fill="#e83030" stroke="#e83030" stroke-width="0.3" textLength="33.88" lengthAdjust="spacingAndGlyphs">NTFI</text>
<text x="530.44" y="890.50" font-size="26" class="tm" fill="#e83030" stroke="#e83030" stroke-width="0.3" textLength="13.42" lengthAdjust="spacingAndGlyphs">h</text>
<text x="543.60" y="880.10" font-size="13" class="tm" fill="#e83030" stroke="#e83030" stroke-width="0.15" textLength="7.98" lengthAdjust="spacingAndGlyphs">2</text>
<line x1="506.8" y1="895.2" x2="537.3" y2="960.5" stroke="#000" stroke-width="2.8"/><path d="M542,970.6L527.7,960.2L537.3,960.5L543.1,953Z" fill="#000"/>
<rect x="475.3" y="649.7" width="182" height="31.4" fill="#fff" stroke="#777" stroke-width="1.4" stroke-dasharray="5 2 1.5 2"/>
<text x="478.84" y="676.10" font-size="25" class="tm" fill="#000" stroke="#000" stroke-width="0.3" textLength="21.03" lengthAdjust="spacingAndGlyphs">Ω</text>
<text x="499.28" y="678.80" font-size="14" class="tm" fill="#000" stroke="#000" stroke-width="0.15" textLength="10.45" lengthAdjust="spacingAndGlyphs">N</text>
<text x="500.17" y="666.50" font-size="12.5" class="tm" fill="#000" stroke="#000" stroke-width="0.3" textLength="13.36" lengthAdjust="spacingAndGlyphs">FI</text>
<text x="520.25" y="676.10" font-size="25" class="tm" fill="#000" stroke="#000" stroke-width="0.3" textLength="12.58" lengthAdjust="spacingAndGlyphs">h</text>
<text x="533.70" y="666.00" font-size="13" class="tm" fill="#000" stroke="#000" stroke-width="0.15" textLength="7.98" lengthAdjust="spacingAndGlyphs">2</text>
<text x="546.91" y="674.00" font-size="25" class="tm" fill="#000" stroke="#000" stroke-width="0.3" textLength="15.76" lengthAdjust="spacingAndGlyphs">+</text>
<text x="560.63" y="676.10" font-size="25" class="tm" fill="#000" stroke="#000" stroke-width="0.3" textLength="22.54" lengthAdjust="spacingAndGlyphs">Ω</text>
<text x="583.88" y="678.80" font-size="14" class="tm" fill="#000" stroke="#000" stroke-width="0.15" textLength="10.45" lengthAdjust="spacingAndGlyphs">N</text>
<text x="583.86" y="666.50" font-size="12.8" class="tm" fill="#000" stroke="#000" stroke-width="0.3" textLength="34.29" lengthAdjust="spacingAndGlyphs">NTFI</text>
<text x="625.76" y="676.10" font-size="25" class="tm" fill="#000" stroke="#000" stroke-width="0.3" textLength="12.47" lengthAdjust="spacingAndGlyphs">h</text>
<text x="639.03" y="666.00" font-size="13" class="tm" fill="#000" stroke="#000" stroke-width="0.15" textLength="8.73" lengthAdjust="spacingAndGlyphs">2</text>
<line x1="590.1" y1="681.1" x2="664.3" y2="769.9" stroke="#000" stroke-width="2.8"/><path d="M671.5,778.5L655,772.1L664.3,769.9L668.1,761.2Z" fill="#000"/>
<rect x="247.7" y="891.6" width="195" height="123.3" fill="#fff" stroke="#000" stroke-width="1.6"/>
<text x="252.05" y="920.10" font-size="26.5" class="tm" fill="#000" stroke="#000" stroke-width="0.35" textLength="26.21" lengthAdjust="spacingAndGlyphs">M</text>
<text x="276.76" y="924.00" font-size="15.5" class="tm" fill="#000" stroke="#000" stroke-width="0.2" textLength="9.62" lengthAdjust="spacingAndGlyphs">ρ</text>
<text x="285.35" y="920.10" font-size="26.5" class="tm" fill="#000" stroke="#000" stroke-width="0.35" textLength="143.87" lengthAdjust="spacingAndGlyphs">= 4000 GeV</text>
<text x="251.54" y="950.40" font-size="26.5" class="tm" fill="#000" stroke="#000" stroke-width="0.35" textLength="26.53" lengthAdjust="spacingAndGlyphs">M</text>
<text x="277.40" y="953.40" font-size="18.5" class="tm" fill="#000" stroke="#000" stroke-width="0.2" textLength="12.60" lengthAdjust="spacingAndGlyphs">N</text>
<text x="288.85" y="950.40" font-size="26.5" class="tm" fill="#000" stroke="#000" stroke-width="0.35" textLength="144.18" lengthAdjust="spacingAndGlyphs">= 1000 GeV</text>
<text x="251.54" y="981.10" font-size="26.5" class="tm" fill="#000" stroke="#000" stroke-width="0.35" textLength="26.53" lengthAdjust="spacingAndGlyphs">M</text>
<text x="277.36" y="984.70" font-size="15.5" class="tm" fill="#000" stroke="#000" stroke-width="0.2" textLength="13.49" lengthAdjust="spacingAndGlyphs">H</text>
<text x="290.67" y="986.20" font-size="8.5" class="tm" fill="#000" stroke="#000" stroke-width="0.1" textLength="4.86" lengthAdjust="spacingAndGlyphs">2</text>
<text x="294.76" y="981.10" font-size="26.5" class="tm" fill="#000" stroke="#000" stroke-width="0.35" textLength="143.67" lengthAdjust="spacingAndGlyphs">= 7000 GeV</text>
<text x="259.38" y="1011.00" font-size="26.5" class="tm" fill="#000" stroke="#000" stroke-width="0.35" textLength="20.75" lengthAdjust="spacingAndGlyphs">Y</text>
<text x="278.22" y="1015.50" font-size="15.5" class="tm" fill="#000" stroke="#000" stroke-width="0.2" textLength="20.86" lengthAdjust="spacingAndGlyphs">ρΔ</text>
<text x="297.64" y="1011.00" font-size="26.5" class="tm" fill="#000" stroke="#000" stroke-width="0.35" textLength="106.27" lengthAdjust="spacingAndGlyphs">= 2.1×10</text>
<text x="403.78" y="1000.30" font-size="15" class="tm" fill="#000" stroke="#000" stroke-width="0.2" textLength="22.24" lengthAdjust="spacingAndGlyphs">-12</text>
</svg>
</body></html>
